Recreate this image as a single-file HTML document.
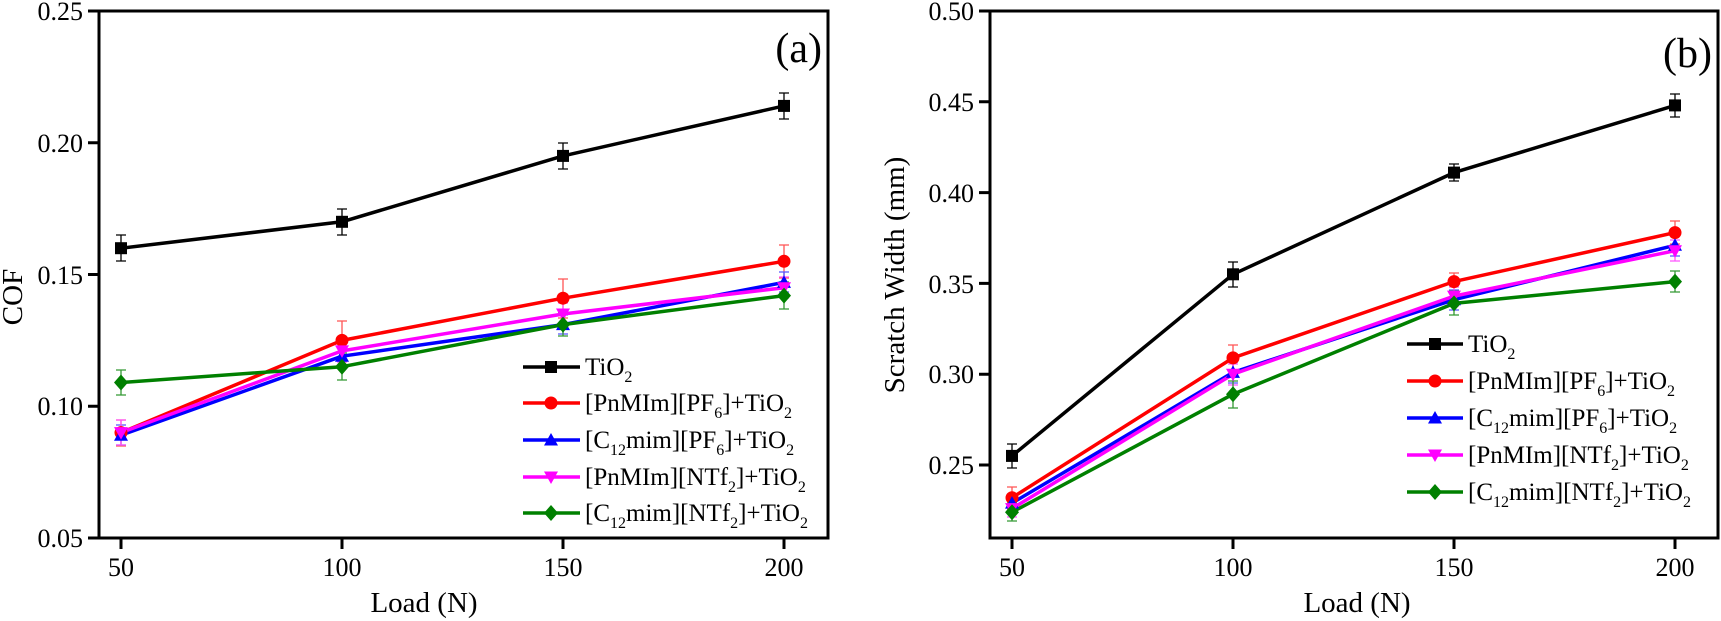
<!DOCTYPE html>
<html><head><meta charset="utf-8"><style>
html,body{margin:0;padding:0;background:#fff;}
svg{display:block;font-family:"Liberation Serif","Times New Roman",serif;}
</style></head><body>
<svg width="1721" height="621" viewBox="0 0 1721 621" xmlns="http://www.w3.org/2000/svg">
<defs>
<rect id="sq" x="-6" y="-6" width="12" height="12" fill="#000"/>
<circle id="ci" r="6.5" fill="#f00"/>
<polygon id="tu" points="0,-7 7,5.5 -7,5.5" fill="#00f"/>
<polygon id="td" points="0,7 7,-5.5 -7,-5.5" fill="#f0f"/>
<polygon id="di" points="0,-8 7,0 0,8 -7,0" fill="#008000"/>
</defs>

<!-- ========== Panel A ========== -->
<g stroke="#000" stroke-width="3" fill="none">
<rect x="99" y="11" width="729" height="527"/>
<path d="M88 11H99M88 142.75H99M88 274.5H99M88 406.25H99M88 538H99"/>
<path d="M121 538V549M342 538V549M563 538V549M784 538V549"/>
</g>
<g font-size="26" text-anchor="end" fill="#000">
<text x="83" y="20">0.25</text><text x="83" y="152">0.20</text><text x="83" y="284">0.15</text><text x="83" y="415">0.10</text><text x="83" y="547">0.05</text>
</g>
<g font-size="26" text-anchor="middle">
<text x="121" y="576">50</text><text x="342" y="576">100</text><text x="563" y="576">150</text><text x="784" y="576">200</text>
</g>
<text x="424" y="612" font-size="29" text-anchor="middle">Load (N)</text>
<text transform="translate(22,297) rotate(-90)" font-size="29" text-anchor="middle">COF</text>
<text x="822" y="62" font-size="42" text-anchor="end">(a)</text>

<g stroke-width="1.3" fill="none">
<path stroke="#000" d="M121 235V261M116 235H126M116 261H126M342 209V235M337 209H347M337 235H347M563 143V169M558 143H568M558 169H568M784 93V119M779 93H789M779 119H789"/>
<path stroke="#f55" d="M121 420V446M116 420H126M116 446H126M342 321V360M337 321H347M337 360H347M563 279V318M558 279H568M558 318H568M784 245V278M779 245H789M779 278H789"/>
<path stroke="#55f" d="M121 425V445M116 425H126M116 445H126M342 346V366M337 346H347M337 366H347M563 315V334M558 315H568M558 334H568M784 272V292M779 272H789M779 292H789"/>
<path stroke="#f5f" d="M121 420V445M116 420H126M116 445H126M342 339V362M337 339H347M337 362H347M563 303V325M558 303H568M558 325H568M784 277V298M779 277H789M779 298H789"/>
<path stroke="#393" d="M121 370V395M116 370H126M116 395H126M342 353V380M337 353H347M337 380H347M563 313V336M558 313H568M558 336H568M784 282V309M779 282H789M779 309H789"/>
</g>
<g fill="none" stroke-width="3.5" stroke-linejoin="round">
<polyline stroke="#000" points="121,248.2 342,221.8 563,155.9 784,105.9"/>
<polyline stroke="#f00" points="121,432.6 342,340.4 563,298.2 784,261.3"/>
<polyline stroke="#00f" points="121,435.2 342,356.2 563,324.6 784,282.4"/>
<polyline stroke="#f0f" points="121,432.6 342,350.9 563,314 784,287.7"/>
<polyline stroke="#008000" points="121,382.5 342,366.7 563,324.6 784,295.6"/>
</g>
<use href="#sq" x="121" y="248.2"/><use href="#sq" x="342" y="221.8"/><use href="#sq" x="563" y="155.9"/><use href="#sq" x="784" y="105.9"/>
<use href="#ci" x="121" y="432.6"/><use href="#ci" x="342" y="340.4"/><use href="#ci" x="563" y="298.2"/><use href="#ci" x="784" y="261.3"/>
<use href="#tu" x="121" y="435.2"/><use href="#tu" x="342" y="356.2"/><use href="#tu" x="563" y="324.6"/><use href="#tu" x="784" y="282.4"/>
<use href="#td" x="121" y="432.6"/><use href="#td" x="342" y="350.9"/><use href="#td" x="563" y="314"/><use href="#td" x="784" y="287.7"/>
<use href="#di" x="121" y="382.5"/><use href="#di" x="342" y="366.7"/><use href="#di" x="563" y="324.6"/><use href="#di" x="784" y="295.6"/>

<g stroke-width="3.5">
<line x1="523" y1="367" x2="580" y2="367" stroke="#000"/><line x1="523" y1="403" x2="580" y2="403" stroke="#f00"/><line x1="523" y1="440" x2="580" y2="440" stroke="#00f"/><line x1="523" y1="477" x2="580" y2="477" stroke="#f0f"/><line x1="523" y1="513" x2="580" y2="513" stroke="#008000"/>
</g>
<use href="#sq" x="551" y="367"/><use href="#ci" x="551" y="403"/><use href="#tu" x="551" y="440"/><use href="#td" x="551" y="477"/><use href="#di" x="551" y="513"/>
<g font-size="25">
<text x="585" y="375">TiO<tspan font-size="16" dy="7">2</tspan></text>
<text x="585" y="411">[PnMIm][PF<tspan font-size="16" dy="7">6</tspan><tspan dy="-7">]+TiO</tspan><tspan font-size="16" dy="7">2</tspan></text>
<text x="585" y="448">[C<tspan font-size="16" dy="7">12</tspan><tspan dy="-7">mim][PF</tspan><tspan font-size="16" dy="7">6</tspan><tspan dy="-7">]+TiO</tspan><tspan font-size="16" dy="7">2</tspan></text>
<text x="585" y="485">[PnMIm][NTf<tspan font-size="16" dy="7">2</tspan><tspan dy="-7">]+TiO</tspan><tspan font-size="16" dy="7">2</tspan></text>
<text x="585" y="521">[C<tspan font-size="16" dy="7">12</tspan><tspan dy="-7">mim][NTf</tspan><tspan font-size="16" dy="7">2</tspan><tspan dy="-7">]+TiO</tspan><tspan font-size="16" dy="7">2</tspan></text>
</g>

<!-- ========== Panel B ========== -->
<g stroke="#000" stroke-width="3" fill="none">
<rect x="990" y="11" width="728" height="527"/>
<path d="M979 11H990M979 101.8H990M979 192.6H990M979 283.4H990M979 374.2H990M979 465H990"/>
<path d="M1012 538V549M1233 538V549M1454 538V549M1675 538V549"/>
</g>
<g font-size="26" text-anchor="end">
<text x="974" y="20">0.50</text><text x="974" y="111">0.45</text><text x="974" y="202">0.40</text><text x="974" y="293">0.35</text><text x="974" y="383">0.30</text><text x="974" y="474">0.25</text>
</g>
<g font-size="26" text-anchor="middle">
<text x="1012" y="576">50</text><text x="1233" y="576">100</text><text x="1454" y="576">150</text><text x="1675" y="576">200</text>
</g>
<text x="1357" y="612" font-size="29" text-anchor="middle">Load (N)</text>
<text transform="translate(904,275) rotate(-90)" font-size="29" text-anchor="middle">Scratch Width (mm)</text>
<text x="1712" y="67" font-size="42" text-anchor="end">(b)</text>

<g stroke-width="1.3" fill="none">
<path stroke="#000" d="M1012 444V468M1007 444H1017M1007 468H1017M1233 262V287M1228 262H1238M1228 287H1238M1454 164V181M1449 164H1459M1449 181H1459M1675 94V117M1670 94H1680M1670 117H1680"/>
<path stroke="#f55" d="M1012 487V509M1007 487H1017M1007 509H1017M1233 345V370M1228 345H1238M1228 370H1238M1454 273V291M1449 273H1459M1449 291H1459M1675 221V244M1670 221H1680M1670 244H1680"/>
<path stroke="#55f" d="M1012 495V511M1007 495H1017M1007 511H1017M1233 362V383M1228 362H1238M1228 383H1238M1454 290V310M1449 290H1459M1449 310H1459M1675 234V256M1670 234H1680M1670 256H1680"/>
<path stroke="#f5f" d="M1012 500V517M1007 500H1017M1007 517H1017M1233 364V385M1228 364H1238M1228 385H1238M1454 287V306M1449 287H1459M1449 306H1459M1675 240V261M1670 240H1680M1670 261H1680"/>
<path stroke="#393" d="M1012 503V521M1007 503H1017M1007 521H1017M1233 381V408M1228 381H1238M1228 408H1238M1454 291V315M1449 291H1459M1449 315H1459M1675 271V292M1670 271H1680M1670 292H1680"/>
</g>
<g fill="none" stroke-width="3.5" stroke-linejoin="round">
<polyline stroke="#000" points="1012,455.9 1233,274.3 1454,172.6 1675,105.4"/>
<polyline stroke="#f00" points="1012,497.7 1233,357.9 1454,281.6 1675,232.6"/>
<polyline stroke="#00f" points="1012,503.1 1233,372.4 1454,299.7 1675,245.3"/>
<polyline stroke="#f0f" points="1012,508.6 1233,374.2 1454,296.1 1675,250.7"/>
<polyline stroke="#008000" points="1012,512.2 1233,394.2 1454,303.4 1675,281.6"/>
</g>
<use href="#sq" x="1012" y="455.9"/><use href="#sq" x="1233" y="274.3"/><use href="#sq" x="1454" y="172.6"/><use href="#sq" x="1675" y="105.4"/>
<use href="#ci" x="1012" y="497.7"/><use href="#ci" x="1233" y="357.9"/><use href="#ci" x="1454" y="281.6"/><use href="#ci" x="1675" y="232.6"/>
<use href="#tu" x="1012" y="503.1"/><use href="#tu" x="1233" y="372.4"/><use href="#tu" x="1454" y="299.7"/><use href="#tu" x="1675" y="245.3"/>
<use href="#td" x="1012" y="508.6"/><use href="#td" x="1233" y="374.2"/><use href="#td" x="1454" y="296.1"/><use href="#td" x="1675" y="250.7"/>
<use href="#di" x="1012" y="512.2"/><use href="#di" x="1233" y="394.2"/><use href="#di" x="1454" y="303.4"/><use href="#di" x="1675" y="281.6"/>

<g stroke-width="3.5">
<line x1="1407" y1="344" x2="1463" y2="344" stroke="#000"/><line x1="1407" y1="381" x2="1463" y2="381" stroke="#f00"/><line x1="1407" y1="418" x2="1463" y2="418" stroke="#00f"/><line x1="1407" y1="455" x2="1463" y2="455" stroke="#f0f"/><line x1="1407" y1="492" x2="1463" y2="492" stroke="#008000"/>
</g>
<use href="#sq" x="1435" y="344"/><use href="#ci" x="1435" y="381"/><use href="#tu" x="1435" y="418"/><use href="#td" x="1435" y="455"/><use href="#di" x="1435" y="492"/>
<g font-size="25">
<text x="1468" y="352">TiO<tspan font-size="16" dy="7">2</tspan></text>
<text x="1468" y="389">[PnMIm][PF<tspan font-size="16" dy="7">6</tspan><tspan dy="-7">]+TiO</tspan><tspan font-size="16" dy="7">2</tspan></text>
<text x="1468" y="426">[C<tspan font-size="16" dy="7">12</tspan><tspan dy="-7">mim][PF</tspan><tspan font-size="16" dy="7">6</tspan><tspan dy="-7">]+TiO</tspan><tspan font-size="16" dy="7">2</tspan></text>
<text x="1468" y="463">[PnMIm][NTf<tspan font-size="16" dy="7">2</tspan><tspan dy="-7">]+TiO</tspan><tspan font-size="16" dy="7">2</tspan></text>
<text x="1468" y="500">[C<tspan font-size="16" dy="7">12</tspan><tspan dy="-7">mim][NTf</tspan><tspan font-size="16" dy="7">2</tspan><tspan dy="-7">]+TiO</tspan><tspan font-size="16" dy="7">2</tspan></text>
</g>
</svg>
</body></html>
